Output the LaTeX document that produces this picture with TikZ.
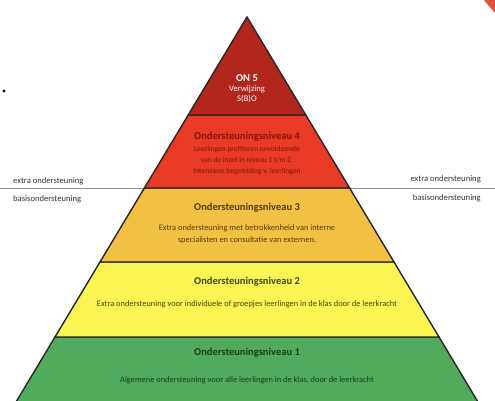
\documentclass[tikz,border=0pt]{standalone}
\usepackage{fontspec}
\setmainfont{Carlito}
\definecolor{onfive}{RGB}{178,38,28}
\definecolor{lvfour}{RGB}{232,58,36}
\definecolor{lvthree}{RGB}{242,192,66}
\definecolor{lvtwo}{RGB}{250,245,82}
\definecolor{lvone}{RGB}{80,172,92}
\definecolor{txfour}{RGB}{125,22,12}
\definecolor{txthree}{RGB}{85,58,15}
\definecolor{txtwo}{RGB}{70,70,20}
\definecolor{txone}{RGB}{22,62,28}
\definecolor{corner}{RGB}{222,82,62}
\tikzset{
  layer/.style={draw=black!85, line width=1.4pt, line join=miter},
  ttl/.style={font=\bfseries\fontsize{10.5}{12}\selectfont, inner sep=0pt, anchor=center},
  body/.style={font=\fontsize{8.4}{12}\selectfont, inner sep=0pt, anchor=center, align=center},
  side/.style={font=\fontsize{8.6}{10}\selectfont, inner sep=0pt, text=black!80}
}
\begin{document}
\begin{tikzpicture}[x=1pt,y=-1pt]
\useasboundingbox (0,0) rectangle (495,400);
\clip (0,0) rectangle (495,400);
% separator line
\coordinate (sepL) at (0,188);
\coordinate (sepR) at (495,188);
\draw[black!45, line width=0.8pt] (sepL) -- (sepR);
% layers
\filldraw[layer, fill=lvone] (55,337) -- (439,337) -- (483.4,411) -- (10.6,411) -- cycle;
\filldraw[layer, fill=lvtwo] (100,262) -- (394,262) -- (439,337) -- (55,337) -- cycle;
\filldraw[layer, fill=lvthree] (144.4,188) -- (349.6,188) -- (394,262) -- (100,262) -- cycle;
\filldraw[layer, fill=lvfour] (188.2,115) -- (305.8,115) -- (349.6,188) -- (144.4,188) -- cycle;
\filldraw[layer, fill=onfive] (247,17) -- (305.8,115) -- (188.2,115) -- cycle;
% texts
\node[ttl, text=white] (on5) at (247,78) {ON 5};
\node[body, text=white, font=\fontsize{8.6}{10}\selectfont] (on5a) at (247,94) {Verwijzing\\S(B)O};
\node[ttl, text=txfour] (t4) at (247,137) {Ondersteuningsniveau 4};
\node[body, text=txfour, font=\fontsize{7.5}{11}\selectfont] (b4) at (247,161) {Leerlingen profiteren onvoldoende\\van de inzet in niveau 1 t/m 2.\\Intensieve begeleiding v. leerlingen};
\node[ttl, text=txthree] (t3) at (247,208) {Ondersteuningsniveau 3};
\node[body, text=txthree] (b3) at (247,234) {Extra ondersteuning met betrokkenheid van interne\\specialisten en consultatie van externen.};
\node[ttl, text=txtwo] (t2) at (247,282) {Ondersteuningsniveau 2};
\node[body, text=txtwo] (b2) at (247,304) {Extra ondersteuning voor individuele of groepjes leerlingen in de klas door de leerkracht};
\node[ttl, text=txone] (t1) at (247,353) {Ondersteuningsniveau 1};
\node[body, text=txone] (b1) at (247,380) {Algemene ondersteuning voor alle leerlingen in de klas, door de leerkracht};
% side labels
\node[side, anchor=west] (exL) at (13,181) {extra ondersteuning};
\node[side, anchor=west] (baL) at (13,199) {basisondersteuning};
\node[side, anchor=east] (exR) at (481,179) {extra ondersteuning};
\node[side, anchor=east] (baR) at (481,198) {basisondersteuning};
% bullet and corner fragment
\fill[black] (4,91) circle (1.7);
\fill[corner] (484,0) -- (495,0) -- (495,13) -- cycle;
\end{tikzpicture}
\end{document}
